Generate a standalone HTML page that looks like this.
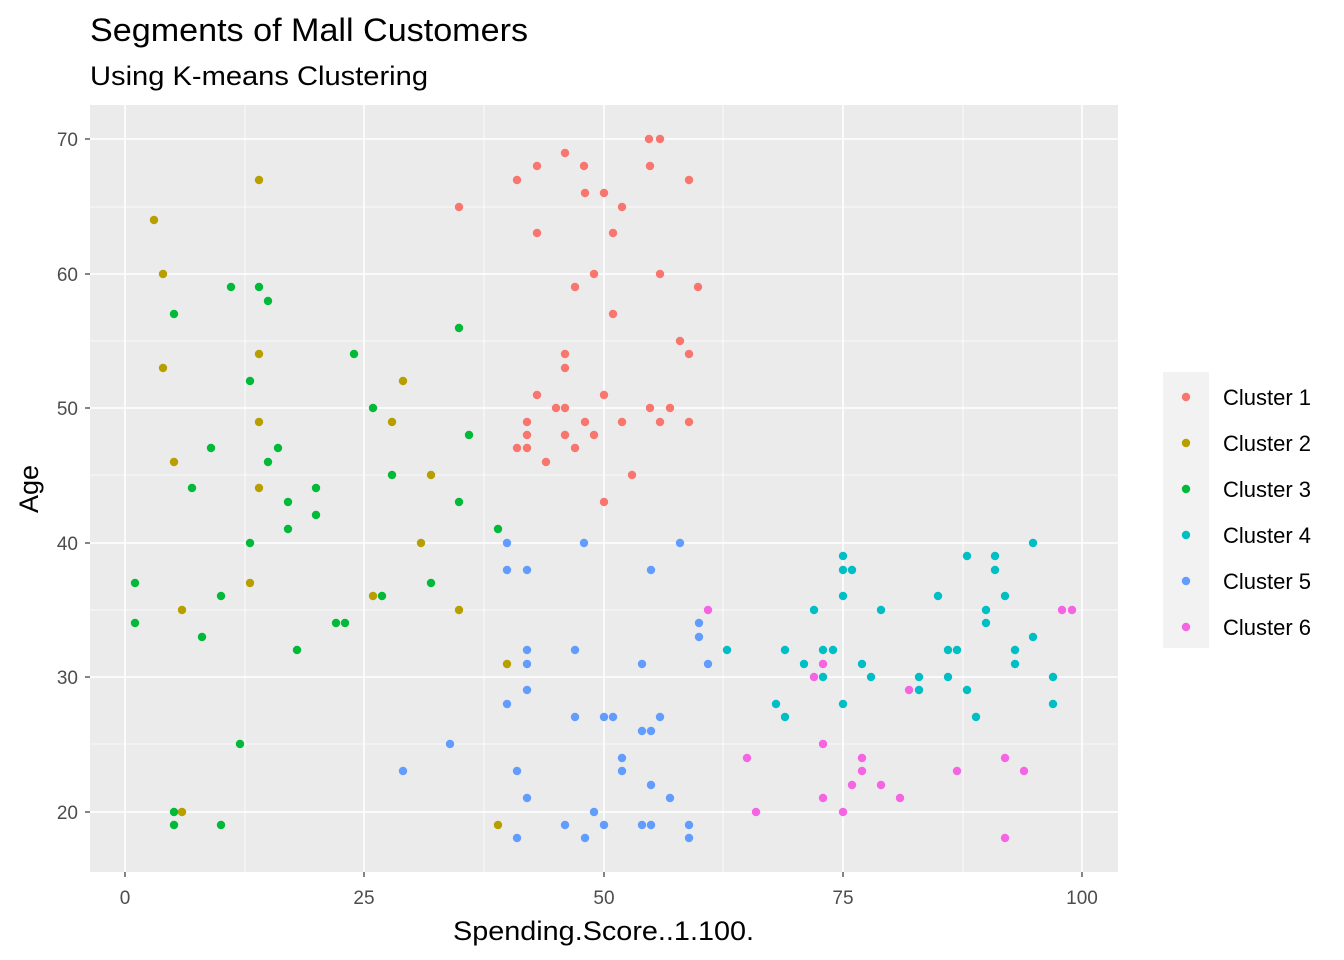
<!DOCTYPE html>
<html><head><meta charset="utf-8"><style>body{margin:0;background:#fff}svg{display:block}text{font-family:"Liberation Sans",Arial,sans-serif}</style></head>
<body>
<svg width="1344" height="960" viewBox="0 0 1344 960">
<rect x="90" y="105" width="1028" height="767" fill="#EBEBEB"/>
<g stroke="#fff" stroke-width="0.8">
<line x1="245" x2="245" y1="105" y2="872"/><line x1="484" x2="484" y1="105" y2="872"/><line x1="723" x2="723" y1="105" y2="872"/><line x1="963" x2="963" y1="105" y2="872"/>
<line x1="90" x2="1118" y1="207" y2="207"/><line x1="90" x2="1118" y1="341" y2="341"/><line x1="90" x2="1118" y1="475" y2="475"/><line x1="90" x2="1118" y1="610" y2="610"/><line x1="90" x2="1118" y1="744" y2="744"/>
</g>
<g stroke="#fff" stroke-width="1.6">
<line x1="125" x2="125" y1="105" y2="872"/><line x1="364" x2="364" y1="105" y2="872"/><line x1="604" x2="604" y1="105" y2="872"/><line x1="843" x2="843" y1="105" y2="872"/><line x1="1082" x2="1082" y1="105" y2="872"/>
<line x1="90" x2="1118" y1="139" y2="139"/><line x1="90" x2="1118" y1="274" y2="274"/><line x1="90" x2="1118" y1="408" y2="408"/><line x1="90" x2="1118" y1="543" y2="543"/><line x1="90" x2="1118" y1="677" y2="677"/><line x1="90" x2="1118" y1="812" y2="812"/>
</g>
<g stroke="#333" stroke-width="1.2">
<line x1="125" x2="125" y1="872" y2="877"/><line x1="364" x2="364" y1="872" y2="877"/><line x1="604" x2="604" y1="872" y2="877"/><line x1="843" x2="843" y1="872" y2="877"/><line x1="1082" x2="1082" y1="872" y2="877"/>
<line x1="85" x2="90" y1="139" y2="139"/><line x1="85" x2="90" y1="274" y2="274"/><line x1="85" x2="90" y1="408" y2="408"/><line x1="85" x2="90" y1="543" y2="543"/><line x1="85" x2="90" y1="677" y2="677"/><line x1="85" x2="90" y1="812" y2="812"/>
</g>
<g fill="#4D4D4D" font-size="19" text-anchor="end">
<text x="78" y="146">70</text><text x="78" y="281">60</text><text x="78" y="415">50</text><text x="78" y="550">40</text><text x="78" y="684">30</text><text x="78" y="819">20</text>
</g>
<g fill="#4D4D4D" font-size="19" text-anchor="middle">
<text x="125" y="904">0</text><text x="364" y="904">25</text><text x="604" y="904">50</text><text x="843" y="904">75</text><text x="1082" y="904">100</text>
</g>
<text x="453" y="940" font-size="27" textLength="301" lengthAdjust="spacingAndGlyphs" fill="#000">Spending.Score..1.100.</text>
<text transform="translate(38,489) rotate(-90)" font-size="27" text-anchor="middle" fill="#000">Age</text>
<text x="90" y="41" font-size="32" textLength="438" lengthAdjust="spacingAndGlyphs" fill="#000">Segments of Mall Customers</text>
<text x="90" y="85" font-size="27" textLength="338" lengthAdjust="spacingAndGlyphs" fill="#000">Using K-means Clustering</text>
<g id="pts"></g>
<rect x="1163" y="372" width="46" height="276" fill="#F2F2F2"/>
<g font-size="22" fill="#000">
<text x="1223" y="405">Cluster 1</text><text x="1223" y="451">Cluster 2</text><text x="1223" y="497">Cluster 3</text><text x="1223" y="543">Cluster 4</text><text x="1223" y="589">Cluster 5</text><text x="1223" y="635">Cluster 6</text>
</g>
<circle cx="1186" cy="397" r="4.2" fill="#F8766D"/><circle cx="1186" cy="443" r="4.2" fill="#B79F00"/><circle cx="1186" cy="489" r="4.2" fill="#00BA38"/><circle cx="1186" cy="535" r="4.2" fill="#00BFC4"/><circle cx="1186" cy="581" r="4.2" fill="#619CFF"/><circle cx="1186" cy="627" r="4.2" fill="#F564E3"/>
</svg>
<script>
var D={
"#F8766D":[[649,139],[660,139],[565,153],[537,166],[584,166],[517,180],[585,193],[604,193],[622,207],[689,180],[650,166],[459,207],[537,233],[613,233],[660,274],[594,274],[698,287],[575,287],[613,314],[680,341],[689,354],[565,354],[565,368],[537,395],[604,395],[556,408],[565,408],[650,408],[670,408],[527,422],[585,422],[622,422],[660,422],[689,422],[527,435],[565,435],[594,435],[517,448],[527,448],[575,448],[546,462],[632,475],[604,502]],
"#B79F00":[[259,180],[154,220],[163,274],[163,368],[259,354],[403,381],[259,422],[392,422],[174,462],[431,475],[259,488],[421,543],[250,583],[182,610],[373,596],[459,610],[507,664],[498,825],[182,812]],
"#00BA38":[[231,287],[259,287],[268,301],[174,314],[459,328],[354,354],[250,381],[373,408],[469,435],[211,448],[278,448],[268,462],[192,488],[316,488],[288,502],[392,475],[459,502],[288,529],[316,515],[498,529],[250,543],[135,583],[221,596],[431,583],[382,596],[135,623],[336,623],[345,623],[202,637],[297,650],[240,744],[174,812],[174,825],[221,825]],
"#00BFC4":[[1033,543],[843,556],[967,556],[995,556],[843,570],[852,570],[995,570],[938,596],[1005,596],[843,596],[881,610],[986,610],[814,610],[986,623],[727,650],[785,650],[823,650],[833,650],[948,650],[957,650],[1015,650],[1033,637],[804,664],[862,664],[1015,664],[871,677],[919,677],[948,677],[1053,677],[823,677],[919,690],[967,690],[776,704],[843,704],[1053,704],[785,717],[976,717]],
"#619CFF":[[507,543],[584,543],[680,543],[507,570],[527,570],[651,570],[699,623],[699,637],[527,650],[575,650],[708,664],[527,664],[642,664],[527,690],[507,704],[575,717],[604,717],[613,717],[660,717],[642,731],[651,731],[622,758],[450,744],[403,771],[517,771],[622,771],[651,785],[670,798],[527,798],[594,812],[565,825],[604,825],[642,825],[651,825],[689,825],[517,838],[585,838],[689,838]],
"#F564E3":[[708,610],[1062,610],[1072,610],[823,664],[814,677],[909,690],[823,744],[747,758],[862,758],[862,771],[852,785],[881,785],[957,771],[1005,758],[1024,771],[823,798],[900,798],[756,812],[843,812],[1005,838]]};
var g=document.getElementById('pts'),s='';
for(var c in D)D[c].forEach(function(p){s+='<circle cx="'+p[0]+'" cy="'+p[1]+'" r="4.2" fill="'+c+'"/>';});
g.innerHTML=s;
</script>
</body></html>
